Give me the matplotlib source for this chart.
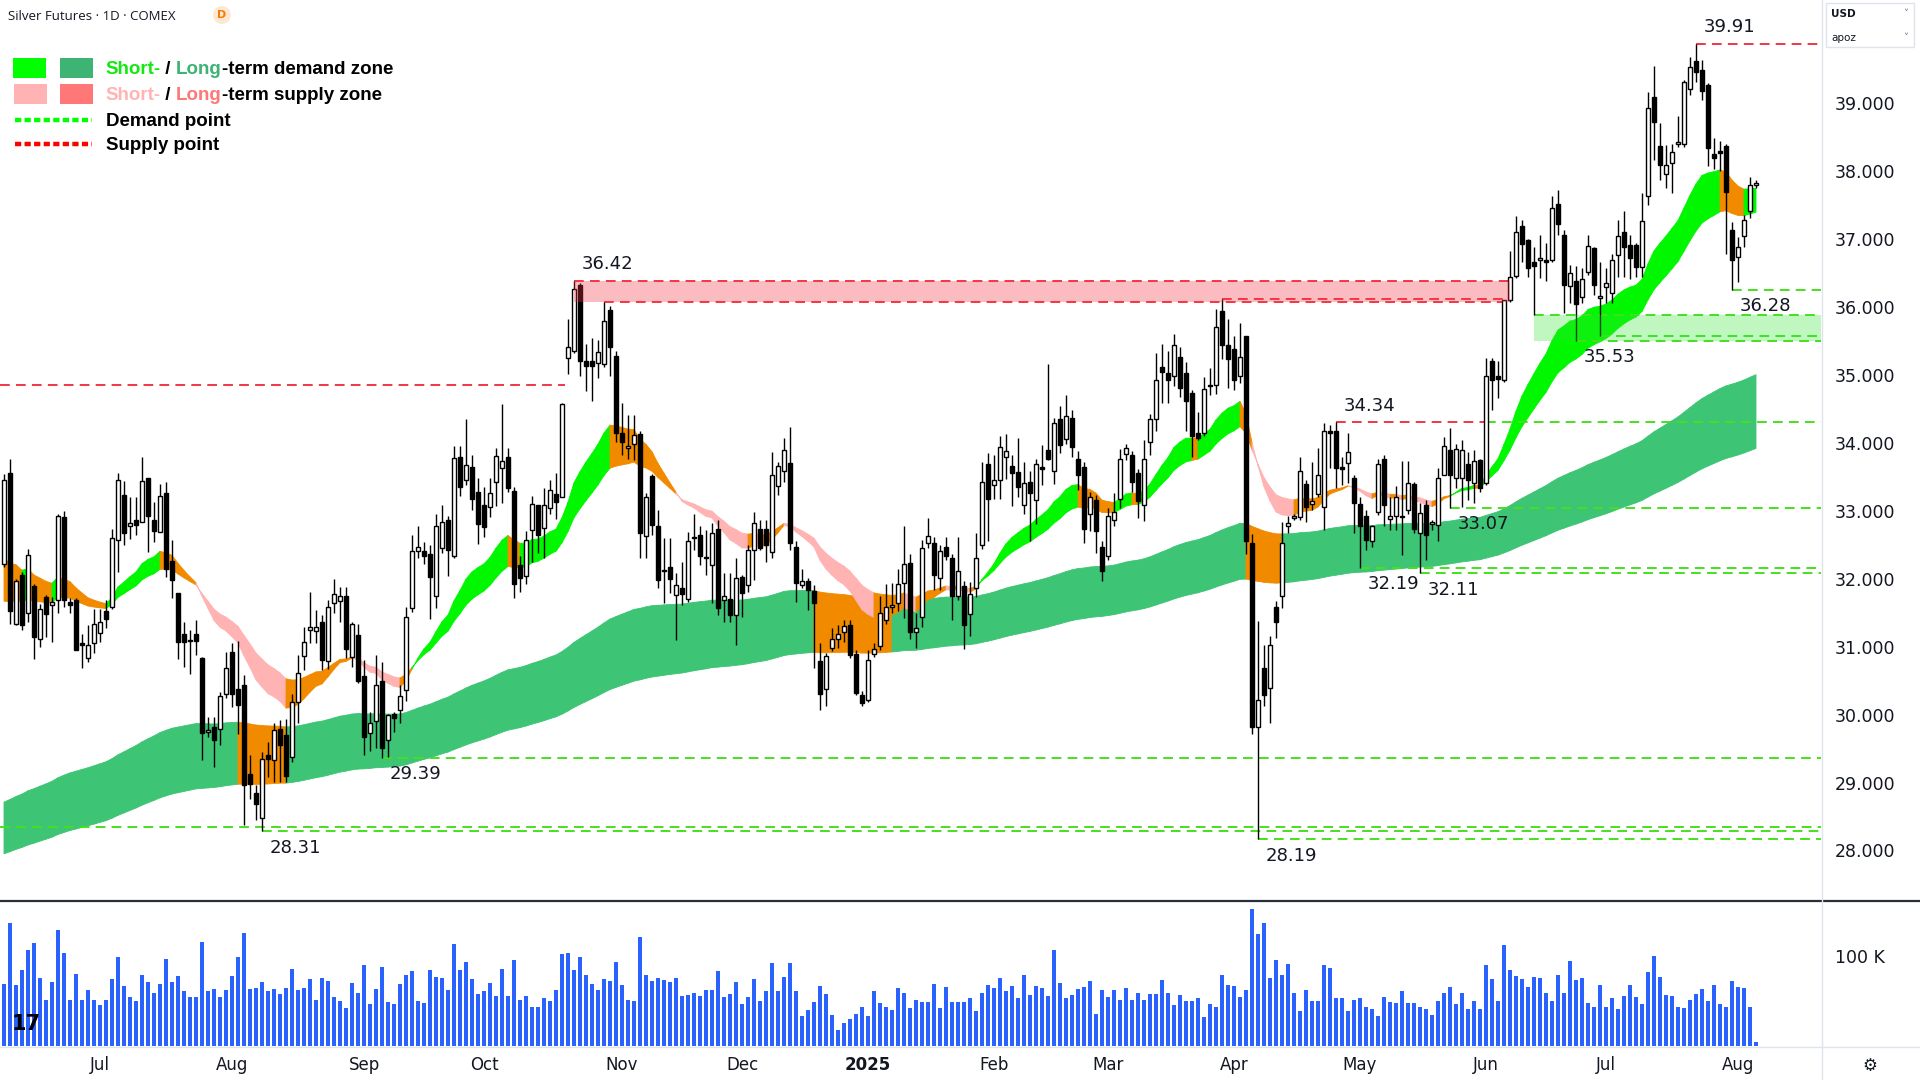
import numpy as np
import matplotlib
matplotlib.use("Agg")
import matplotlib.pyplot as plt
import matplotlib.transforms as mtransforms
from matplotlib.collections import PolyCollection
from matplotlib.patches import Rectangle, Circle
from matplotlib.lines import Line2D

# ---------------- data ----------------
opens = [
    32.25, 33.59, 31.37, 32.08, 31.52, 31.93, 31.14, 31.76, 31.64, 31.72,
    32.94, 31.69, 31.71, 31.09, 30.87, 31.08, 31.23, 31.56, 31.62, 32.60,
    33.27, 32.80, 32.89, 32.86, 33.52, 32.90, 32.72, 33.30, 32.29, 31.82,
    31.22, 31.13, 31.22, 30.86, 29.78, 29.85, 29.82, 30.33, 30.95, 30.41,
    30.46, 29.16, 28.88, 28.50, 29.43, 29.36, 29.82, 29.73, 29.41, 30.22,
    30.89, 31.27, 31.26, 31.39, 30.82, 31.67, 31.70, 31.78, 30.88, 31.20,
    30.60, 29.76, 29.94, 30.52, 29.65, 30.04, 30.09, 30.39, 31.60, 32.44,
    32.44, 32.40, 31.78, 32.49, 32.89, 32.37, 33.82, 33.49, 33.67, 33.31,
    33.11, 33.09, 33.46, 33.66, 33.83, 33.32, 32.23, 32.07, 32.75, 33.11,
    32.78, 33.07, 33.28, 33.24, 35.28, 35.38, 36.35, 35.24, 35.23, 35.21,
    35.20, 35.99, 35.31, 34.17, 33.95, 34.02, 34.16, 32.66, 33.54, 32.80,
    32.16, 32.20, 31.79, 31.89, 31.73, 32.63, 32.67, 32.33, 32.23, 32.77,
    31.72, 31.73, 31.50, 32.06, 31.94, 32.45, 32.76, 32.76, 32.43, 33.40,
    33.61, 33.74, 32.50, 31.94, 31.99, 31.85, 30.82, 30.40, 31.01, 31.14,
    31.25, 31.35, 30.92, 30.32, 30.25, 30.92, 31.04, 31.42, 31.61, 31.67,
    31.97, 32.26, 31.25, 31.47, 32.55, 32.55, 32.04, 32.50, 32.33, 31.78,
    31.93, 31.51, 31.90, 32.52, 33.72, 33.41, 33.49, 33.82, 33.69, 33.60,
    33.12, 33.45, 33.19, 33.67, 33.93, 33.61, 34.38, 34.09, 34.40, 33.80,
    33.67, 32.99, 33.19, 32.50, 32.36, 32.90, 33.20, 33.87, 33.86, 33.59,
    33.11, 34.04, 34.38, 35.15, 35.06, 35.02, 35.29, 35.06, 34.76, 34.18,
    34.17, 34.89, 34.88, 35.97, 35.47, 35.42, 35.02, 35.60, 32.55, 29.85,
    30.72, 30.42, 31.62, 31.77, 32.80, 32.92, 32.94, 33.43, 33.13, 33.28,
    33.09, 34.21, 34.20, 33.67, 33.73, 33.51, 33.13, 32.95, 32.58, 33.02,
    33.80, 32.91, 32.95, 32.96, 33.04, 33.43, 32.71, 33.12, 32.84, 32.82,
    33.56, 33.92, 33.51, 33.51, 33.72, 33.44, 33.78, 33.44, 35.24, 35.01,
    34.96, 36.13, 36.49, 37.23, 37.02, 36.69, 36.72, 36.72, 36.72, 37.55,
    37.09, 36.34, 36.41, 36.18, 36.55, 36.90, 36.17, 36.32, 36.24, 36.80,
    37.14, 36.95, 36.95, 36.62, 37.66, 39.13, 38.40, 37.99, 38.15, 38.43,
    38.43, 39.25, 39.66, 39.53, 39.30, 38.28, 38.33, 38.40, 37.16, 36.77,
    37.08, 37.44, 37.83,
]
highs = [
    33.58, 33.80, 32.03, 32.13, 32.47, 31.96, 31.66, 31.79, 31.76, 32.98,
    33.03, 31.74, 31.74, 31.22, 31.35, 31.59, 31.59, 31.72, 32.77, 33.59,
    33.47, 33.24, 33.24, 33.82, 33.52, 33.16, 33.43, 33.46, 32.60, 31.82,
    31.39, 31.27, 31.42, 30.88, 30.00, 30.00, 30.36, 30.95, 31.08, 31.12,
    30.61, 29.43, 28.99, 29.48, 29.63, 29.90, 29.95, 29.97, 30.34, 30.90,
    31.32, 31.84, 31.57, 31.49, 31.71, 32.02, 31.91, 31.91, 31.39, 31.36,
    30.83, 30.07, 30.91, 30.81, 30.04, 30.07, 30.46, 31.62, 32.67, 32.81,
    32.57, 32.52, 32.99, 33.12, 32.96, 33.99, 33.99, 34.38, 33.86, 33.52,
    33.38, 33.52, 33.96, 34.60, 33.96, 33.38, 32.36, 32.73, 33.25, 33.12,
    33.36, 33.49, 33.59, 34.62, 35.86, 36.42, 36.38, 35.49, 35.57, 35.54,
    36.10, 36.05, 35.38, 34.62, 34.44, 34.44, 34.20, 33.29, 33.58, 33.04,
    32.63, 32.63, 32.11, 32.27, 32.72, 32.99, 32.80, 32.75, 32.85, 32.90,
    32.11, 32.11, 32.33, 32.08, 32.53, 33.02, 32.90, 32.90, 33.89, 33.75,
    34.10, 34.27, 32.58, 32.17, 32.04, 31.94, 31.09, 30.93, 31.30, 31.35,
    31.43, 31.42, 30.98, 30.37, 30.98, 31.09, 31.77, 31.96, 31.97, 32.18,
    32.80, 32.40, 31.52, 32.60, 32.92, 32.65, 32.53, 32.65, 32.40, 32.65,
    31.99, 31.98, 32.71, 33.75, 33.88, 33.86, 34.13, 34.16, 33.86, 34.10,
    33.75, 33.61, 33.80, 34.00, 35.19, 34.40, 34.57, 34.73, 34.51, 33.91,
    33.75, 33.31, 33.26, 32.58, 33.07, 33.30, 33.94, 34.02, 33.91, 33.64,
    34.08, 34.46, 35.36, 35.49, 35.38, 35.64, 35.44, 35.22, 34.81, 34.48,
    35.00, 35.14, 36.01, 36.15, 35.85, 35.60, 35.79, 35.60, 32.69, 31.41,
    31.05, 31.19, 31.70, 32.87, 32.95, 32.99, 33.82, 33.49, 33.75, 33.95,
    34.32, 34.30, 34.34, 33.83, 34.17, 33.56, 33.24, 33.04, 32.82, 33.80,
    33.85, 33.24, 33.39, 33.76, 33.76, 33.46, 33.14, 33.19, 32.90, 33.66,
    34.12, 34.25, 34.02, 34.07, 33.90, 33.93, 33.80, 35.28, 35.28, 35.23,
    36.14, 36.85, 37.37, 37.31, 37.04, 36.92, 37.09, 36.97, 37.66, 37.75,
    37.17, 36.65, 36.63, 36.60, 37.09, 36.92, 36.70, 36.60, 36.82, 37.32,
    37.44, 37.09, 36.97, 37.71, 39.20, 39.58, 38.74, 38.42, 38.44, 38.84,
    39.37, 39.72, 39.91, 39.67, 39.33, 38.52, 38.47, 38.44, 37.29, 37.07,
    37.39, 37.95, 37.91,
]
lows = [
    32.20, 31.37, 31.35, 31.27, 31.39, 30.85, 31.03, 31.17, 31.10, 31.53,
    31.62, 31.52, 30.98, 30.71, 30.81, 30.93, 31.10, 31.30, 31.58, 32.13,
    32.52, 32.61, 32.67, 32.86, 32.43, 32.57, 32.72, 32.06, 31.74, 30.85,
    30.73, 30.63, 30.90, 29.36, 29.70, 29.26, 29.58, 30.27, 30.14, 29.75,
    28.40, 28.79, 28.47, 28.31, 29.11, 29.04, 29.04, 29.04, 29.33, 29.90,
    30.68, 31.08, 31.08, 30.68, 30.70, 31.52, 31.39, 30.86, 30.73, 30.49,
    29.44, 29.49, 29.54, 29.39, 29.41, 29.78, 29.91, 30.23, 31.54, 32.33,
    32.25, 31.44, 31.60, 32.41, 32.07, 32.33, 33.25, 33.41, 33.04, 32.54,
    32.65, 32.94, 33.10, 33.15, 33.31, 31.75, 31.83, 31.96, 32.28, 32.41,
    32.33, 32.99, 32.91, 33.23, 35.04, 35.36, 35.02, 34.80, 34.65, 34.99,
    35.15, 35.02, 34.04, 33.86, 33.80, 33.78, 32.33, 32.33, 32.68, 31.89,
    31.67, 31.82, 31.13, 31.64, 31.69, 32.45, 32.23, 32.09, 31.67, 31.50,
    31.40, 31.40, 31.05, 31.47, 31.84, 32.01, 32.45, 32.28, 32.33, 33.26,
    33.46, 32.45, 31.69, 31.89, 31.57, 30.71, 30.10, 30.15, 30.96, 31.01,
    31.10, 30.86, 30.32, 30.16, 30.22, 30.88, 30.98, 31.37, 31.52, 31.55,
    31.45, 31.15, 31.01, 31.32, 32.48, 31.86, 31.86, 32.31, 31.42, 31.72,
    30.99, 31.19, 31.76, 32.47, 32.58, 33.20, 33.20, 33.50, 33.10, 33.23,
    32.99, 32.59, 32.84, 33.41, 33.78, 33.42, 33.88, 34.02, 33.83, 33.34,
    32.55, 32.74, 32.41, 32.00, 32.31, 32.80, 33.07, 33.78, 33.31, 32.93,
    32.88, 33.86, 34.21, 34.62, 34.62, 34.87, 34.70, 34.21, 33.83, 34.08,
    34.13, 34.73, 34.75, 35.27, 34.84, 34.81, 34.92, 32.39, 29.74, 28.19,
    30.15, 29.91, 31.16, 31.60, 32.70, 32.90, 32.90, 32.87, 33.04, 33.24,
    32.75, 33.66, 33.36, 33.41, 33.44, 32.70, 32.19, 32.45, 32.50, 32.97,
    32.80, 32.75, 32.75, 32.38, 32.99, 32.70, 32.11, 32.31, 32.75, 32.58,
    33.56, 33.07, 33.36, 33.09, 33.19, 33.14, 33.31, 33.41, 34.52, 34.69,
    34.93, 36.11, 36.46, 36.69, 36.48, 35.92, 36.46, 36.41, 36.70, 37.10,
    35.95, 36.09, 35.53, 36.09, 36.50, 36.21, 35.60, 36.09, 36.09, 36.48,
    36.48, 36.45, 36.48, 36.48, 37.53, 38.20, 37.91, 37.78, 37.71, 38.39,
    38.39, 39.15, 39.34, 39.08, 38.11, 38.07, 38.03, 36.82, 36.28, 36.40,
    36.92, 37.34, 37.79,
]
closes = [
    33.49, 31.56, 32.00, 31.35, 32.38, 31.17, 31.59, 31.51, 31.69, 32.95,
    31.71, 31.64, 30.98, 31.06, 31.05, 31.36, 31.40, 31.44, 32.63, 33.49,
    32.70, 32.85, 32.82, 33.47, 32.95, 32.73, 33.25, 32.18, 32.01, 31.10,
    31.10, 31.11, 31.11, 29.76, 29.81, 29.65, 30.31, 30.72, 30.33, 30.17,
    28.99, 29.01, 28.72, 29.38, 29.37, 29.80, 29.58, 29.12, 30.22, 30.64,
    31.10, 31.32, 31.32, 30.83, 31.62, 31.81, 31.78, 30.99, 31.36, 30.52,
    29.70, 29.91, 30.47, 29.54, 30.02, 29.98, 30.30, 31.46, 32.44, 32.50,
    32.36, 32.05, 32.81, 32.87, 32.46, 33.81, 33.38, 33.70, 33.20, 32.83,
    32.79, 33.30, 33.84, 33.76, 33.37, 31.96, 32.04, 32.60, 33.13, 32.68,
    33.11, 33.33, 33.16, 34.61, 35.45, 36.30, 35.23, 35.17, 35.16, 35.37,
    35.82, 35.45, 34.17, 34.04, 33.98, 34.15, 32.70, 33.23, 32.82, 32.01,
    32.14, 32.02, 31.94, 31.80, 32.59, 32.65, 32.36, 32.34, 32.71, 31.60,
    31.77, 31.50, 32.04, 31.82, 32.45, 32.85, 32.49, 32.53, 33.56, 33.69,
    33.92, 32.55, 31.97, 32.00, 31.86, 31.67, 30.34, 30.89, 31.14, 31.22,
    31.34, 30.91, 30.35, 30.20, 30.83, 31.00, 31.52, 31.62, 31.64, 31.95,
    32.25, 31.24, 31.30, 32.48, 32.66, 32.09, 32.44, 32.37, 31.77, 32.14,
    31.35, 31.81, 32.33, 33.45, 33.20, 33.48, 33.97, 33.91, 33.59, 33.38,
    33.44, 33.29, 33.72, 33.65, 33.80, 34.32, 34.00, 34.43, 33.97, 33.56,
    32.77, 33.23, 32.74, 32.14, 32.96, 33.02, 33.79, 33.96, 33.45, 33.17,
    33.79, 34.39, 34.95, 35.07, 34.95, 35.47, 34.84, 34.65, 34.13, 34.10,
    34.82, 34.87, 35.74, 35.47, 35.27, 34.95, 35.30, 32.59, 29.85, 30.24,
    30.32, 31.06, 31.39, 32.55, 32.85, 32.95, 33.62, 33.09, 33.18, 33.56,
    34.20, 34.18, 33.66, 33.64, 33.90, 33.15, 32.80, 32.60, 32.80, 33.72,
    33.12, 32.95, 33.24, 32.94, 33.44, 32.76, 33.00, 32.67, 32.87, 33.51,
    33.99, 33.56, 33.94, 33.93, 33.49, 33.76, 33.36, 35.02, 34.96, 34.97,
    36.14, 36.48, 37.13, 36.96, 36.60, 36.64, 36.75, 36.70, 37.49, 37.26,
    36.36, 36.53, 36.08, 36.44, 36.93, 36.36, 36.20, 36.39, 36.73, 37.08,
    36.91, 36.75, 36.62, 37.30, 38.96, 38.76, 38.12, 38.12, 38.31, 38.46,
    39.35, 39.56, 39.50, 39.22, 38.37, 38.22, 38.30, 37.73, 36.72, 36.92,
    37.31, 37.83, 37.86,
]
volumes_k = [
    71, 140, 69, 87, 110, 117, 77, 53, 73, 132,
    106, 53, 82, 53, 64, 52, 47, 53, 76, 101,
    68, 56, 51, 81, 73, 60, 71, 99, 73, 80,
    63, 56, 56, 119, 63, 65, 56, 64, 80, 102,
    129, 65, 66, 73, 63, 65, 59, 66, 88, 64,
    66, 76, 52, 77, 74, 56, 51, 43, 72, 61,
    92, 48, 65, 90, 50, 48, 71, 81, 85, 51,
    49, 87, 79, 77, 64, 116, 87, 96, 76, 59,
    63, 72, 57, 88, 57, 98, 53, 57, 45, 45,
    55, 51, 64, 105, 106, 87, 102, 81, 71, 64,
    76, 74, 96, 69, 52, 51, 124, 81, 74, 77,
    75, 73, 77, 57, 58, 61, 57, 64, 64, 85,
    56, 59, 73, 48, 56, 76, 51, 63, 95, 63,
    79, 95, 63, 34, 41, 50, 68, 59, 35, 18,
    26, 31, 37, 44, 34, 63, 49, 45, 41, 66,
    61, 43, 52, 50, 50, 71, 43, 67, 50, 50,
    50, 55, 40, 61, 69, 66, 77, 63, 68, 55,
    81, 58, 68, 66, 57, 110, 72, 55, 58, 65,
    67, 74, 37, 64, 56, 64, 52, 66, 52, 60,
    52, 59, 59, 75, 61, 47, 58, 51, 51, 55,
    33, 48, 45, 81, 69, 68, 56, 64, 156, 128,
    140, 77, 98, 81, 94, 61, 40, 64, 51, 51,
    92, 89, 55, 55, 40, 53, 55, 44, 42, 34,
    56, 50, 49, 63, 49, 49, 45, 42, 35, 51,
    60, 67, 48, 61, 42, 51, 42, 92, 76, 51,
    115, 87, 80, 76, 67, 79, 77, 60, 51, 81,
    61, 97, 75, 77, 49, 44, 69, 44, 55, 42,
    57, 69, 56, 48, 84, 103, 79, 58, 57, 45,
    43, 52, 59, 65, 51, 69, 48, 44, 74, 67,
    66, 45, 5,
]

month_ticks = [16, 38, 60, 80, 103, 123, 144, 165, 184, 205, 226, 247, 267, 289]
month_labels = ["Jul", "Aug", "Sep", "Oct", "Nov", "Dec", "2025",
                "Feb", "Mar", "Apr", "May", "Jun", "Jul", "Aug"]
price_ticks = [28, 29, 30, 31, 32, 33, 34, 35, 36, 37, 38, 39]

# moving-average ribbons: (period, value at first bar)
short_fast, short_slow = (21, 32.33), (34, 31.70)
long_fast, long_slow = (144, 28.74), (233, 27.98)

# supply points (red): level, bar where it starts, bar where it ends (None = right edge)
supply_levels = [34.89, 36.42, 36.10, 36.15, 34.34, 39.91]
supply_start = [-1, 95, 100, 203, 222, 282]
supply_end = [93.5, 251, 251, 251, 247, None]
# demand points (green)
demand_levels = [28.38, 28.31, 28.19, 29.39, 32.19, 32.11, 33.07, 34.34, 35.92, 35.53, 35.60, 36.28]
demand_start = [-1, 43, 209, 63, 226, 236, 241, 247, 255, 262, 266, 288]
# labelled points: value, bar, above(+1)/below(-1)
label_values = [36.42, 29.39, 28.31, 28.19, 34.34, 32.19, 32.11, 33.07, 35.53, 36.28, 39.91]
label_bars = [95, 63, 43, 209, 222, 226, 236, 241, 262, 288, 282]
label_side = [1, -1, -1, -1, 1, -1, -1, -1, -1, -1, 1]
# zones: low, high, start bar, end bar (None = right edge)
supply_zone = (36.10, 36.42, 95, 251)
demand_zone = (35.53, 35.92, 255, None)

# ---------------- helpers ----------------
def ema(values, period, seed):
    a = 2.0 / (period + 1)
    out = np.empty(len(values))
    out[0] = seed
    for i in range(1, len(values)):
        out[i] = out[i - 1] + a * (values[i] - out[i - 1])
    return out

n = len(closes)
assert len(opens) == n and len(highs) == n and len(lows) == n and len(volumes_k) == n
x = np.arange(n)
o = np.array(opens); h = np.array(highs); l = np.array(lows); c = np.array(closes)
v = np.array(volumes_k, dtype=float)

W, H = 1920, 1080
PANE_R = 1821
fig = plt.figure(figsize=(W / 100, H / 100), dpi=100)
fig.patch.set_facecolor("white")
PX = mtransforms.Affine2D().scale(1.0 / W, -1.0 / H).translate(0, 1) + fig.transFigure

def rect(x0, y0, x1, y1):
    return [x0 / W, 1 - y1 / H, (x1 - x0) / W, (y1 - y0) / H]

XMIN, XMAX = -2.0 / 3.0, (PANE_R - 4) / 6.0
ax = fig.add_axes(rect(0, 0, PANE_R, 900))
axv = fig.add_axes(rect(0, 902, PANE_R, 1046))
for a in (ax, axv):
    a.set_xlim(XMIN, XMAX)
    a.axis("off")
ax.set_ylim(39 - (900 - 105.5) / 67.9, 39 + 105.5 / 67.9)
axv.set_ylim(0, 164.2)

GREEN = "#00F700"
LGREEN = "#3DC475"
ORANGE = "#F28A00"
PINK = "#FFB3B3"
RED = "#F23645"
DGREEN = "#45E01E"
TXT = "#131722"

# ---------------- ribbons ----------------
sf = ema(c, *short_fast); ss = ema(c, *short_slow)
lf = ema(c, *long_fast); ls = ema(c, *long_slow)
short_col = np.where((sf > ss) & (c > sf), GREEN,
                     np.where((sf < ss) & (c < sf), PINK, ORANGE))
# long ribbon turns neutral once price closes under it, until it closes back above it
long_neutral = np.zeros(n, dtype=bool)
state = False
for i in range(n):
    if not state and c[i] < ls[i]:
        state = True
    elif state and c[i] > lf[i]:
        state = False
    long_neutral[i] = state
long_col = np.where(long_neutral, ORANGE, LGREEN)

def ribbon(a, f, s, cols, z):
    polys = [[(i - 1, f[i - 1]), (i, f[i]), (i, s[i]), (i - 1, s[i - 1])] for i in range(1, n)]
    pc = PolyCollection(polys, facecolors=cols[1:], edgecolors=cols[1:], linewidths=0.6, zorder=z)
    a.add_collection(pc)

ribbon(ax, lf, ls, long_col, 1.5)
ribbon(ax, sf, ss, short_col, 2)

# ---------------- levels ----------------
DASH = (0, (5, 3.2))
for lvl, s0, e0 in zip(supply_levels, supply_start, supply_end):
    e = XMAX if e0 is None else e0
    ax.plot([max(s0, XMIN), e], [lvl, lvl], color=RED, lw=1.4, ls=DASH, zorder=3)
for lvl, s0 in zip(demand_levels, demand_start):
    ax.plot([max(s0, XMIN), XMAX], [lvl, lvl], color=DGREEN, lw=1.4, ls=DASH, zorder=3)

# ---------------- candles ----------------
up = c >= o
ax.vlines(x, l, h, color="black", lw=1.0, zorder=5)
bot = np.minimum(o, c)
hgt = np.maximum(np.abs(c - o), 0.015)
ax.bar(x[up], hgt[up], bottom=bot[up], width=0.6, color="white", edgecolor="black", linewidth=1.0, zorder=6)
ax.bar(x[~up], hgt[~up], bottom=bot[~up], width=0.6, color="black", edgecolor="black", linewidth=1.0, zorder=6)

# ---------------- zones (translucent, above candles) ----------------
zl, zh, zs, ze = supply_zone
ax.fill_between([zs, ze], zl, zh, color=RED, alpha=0.33, lw=0, zorder=7)
zl, zh, zs, ze = demand_zone
ax.fill_between([zs, XMAX if ze is None else ze], zl, zh, color="#2FE52F", alpha=0.30, lw=0, zorder=7)

# ---------------- point labels ----------------
for val, b, side in zip(label_values, label_bars, label_side):
    ax.text(b + 1.2, val + side * 0.24, f"{val:.2f}", ha="left", va="center",
            fontsize=13, color=TXT, zorder=8)

# ---------------- price axis ----------------
ytr = ax.get_yaxis_transform()
for p in price_ticks:
    ax.text(1.0077, p, f"{p:.3f}", transform=ytr, ha="left", va="center", fontsize=12.5, color=TXT)

# ---------------- volume ----------------
axv.bar(x, v, width=0.8, color="#2962FF", lw=0)
axv.text(1.0077, 100, "100 K", transform=axv.get_yaxis_transform(), ha="left", va="center",
         fontsize=12.5, color=TXT)

# ---------------- time axis ----------------
ttr = mtransforms.blended_transform_factory(axv.transData, fig.transFigure)
for t, lab in zip(month_ticks, month_labels):
    axv.text(t, 1 - 1065 / H, lab, transform=ttr, ha="center", va="center", fontsize=12,
             color=TXT, fontweight="bold" if lab.isdigit() else "normal")

# ---------------- frame lines ----------------
fig.add_artist(Line2D([0, W], [901, 901], transform=PX, color="#2A2E39", lw=1.6))
fig.add_artist(Line2D([0, W], [1046.5, 1046.5], transform=PX, color="#E0E3EB", lw=1.0))
fig.add_artist(Line2D([PANE_R + 0.5, PANE_R + 0.5], [0, H], transform=PX, color="#E0E3EB", lw=1.0))

# ---------------- header / legend ----------------
fig.text(8 / W, 1 - 16 / H, "Silver Futures · 1D · COMEX", fontsize=9.5, color=TXT,
         family="Open Sans", ha="left", va="center")
fig.add_artist(Circle((222, 15), 9, transform=PX, facecolor="#FDE9D3", edgecolor="none"))
fig.text(222 / W, 1 - 15.5 / H, "D", fontsize=8, color="#F57C00", fontweight="bold",
         ha="center", va="center")

fig.add_artist(Rectangle((13, 58), 33, 20, transform=PX, facecolor="#00FF00", edgecolor="none"))
fig.add_artist(Rectangle((60, 58), 33, 20, transform=PX, facecolor="#3DB374", edgecolor="none"))
fig.add_artist(Rectangle((14, 84), 33, 20, transform=PX, facecolor="#FFB3B3", edgecolor="none"))
fig.add_artist(Rectangle((60, 84), 33, 20, transform=PX, facecolor="#FF7777", edgecolor="none"))
fig.add_artist(Line2D([15, 92], [120, 120], transform=PX, color="#00FF00", lw=3.2,
                      ls=(0, (1.4, 0.75)), solid_capstyle="butt", dash_capstyle="butt"))
fig.add_artist(Line2D([15, 92], [144, 144], transform=PX, color="#FF0000", lw=3.2,
                      ls=(0, (1.4, 0.75)), solid_capstyle="butt", dash_capstyle="butt"))

renderer = fig.canvas.get_renderer()
LEG = dict(fontsize=13.5, fontweight="bold", family="Liberation Sans", ha="left", va="center")

def multi_text(x0, y0, pieces):
    xx = x0
    for s, col in pieces:
        t = fig.text(xx / W, 1 - y0 / H, s, color=col, **LEG)
        xx += t.get_window_extent(renderer=renderer).width

multi_text(105, 69, [("Short-", "#12E812"), (" / ", "black"), ("Long", "#3DB374"),
                     ("-term demand zone", "black")])
multi_text(105, 95, [("Short-", "#FFB3B3"), (" / ", "black"), ("Long", "#FF7777"),
                     ("-term supply zone", "black")])
fig.text(106 / W, 1 - 121 / H, "Demand point", color="black", **LEG)
fig.text(106 / W, 1 - 145 / H, "Supply point", color="black", **LEG)

# currency box
fig.add_artist(Rectangle((1826, 3), 88, 44, transform=PX, facecolor="white", edgecolor="#E0E3EB", lw=1))
fig.text(1831 / W, 1 - 14 / H, "USD", fontsize=7.5, fontweight="bold", color=TXT, ha="left", va="center")
fig.text(1831 / W, 1 - 38 / H, "apoz", fontsize=7.5, color=TXT, ha="left", va="center")
fig.text(1906 / W, 1 - 14 / H, "˅", fontsize=7, color="#6A6D78", ha="center", va="center")
fig.text(1906 / W, 1 - 38 / H, "˅", fontsize=7, color="#6A6D78", ha="center", va="center")
fig.text(1870 / W, 1 - 1066 / H, "⚙", fontsize=12, color=TXT, ha="center", va="center")
fig.text(12 / W, 1 - 1024 / H, "17", fontsize=15, fontweight="heavy", color="black",
         ha="left", va="center", family="DejaVu Sans")

fig.savefig("out.png", dpi=100)
